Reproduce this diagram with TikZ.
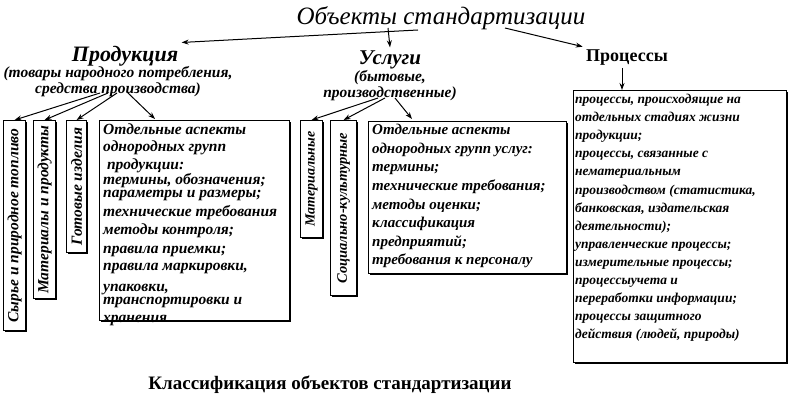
\documentclass[tikz,border=0pt]{standalone}
\usepackage{fontspec}
\setmainfont{Liberation Serif}
\usetikzlibrary{shadows,arrows.meta}
\begin{document}
\begin{tikzpicture}[x=1pt,y=-1pt,
  bx/.style={draw,line width=1.2pt,fill=white,anchor=north west,inner sep=0pt,
    drop shadow={shadow xshift=1.4pt,shadow yshift=-1.4pt,fill=black,opacity=1}},
  bt/.style={font=\fontsize{15.5}{17}\selectfont\bfseries\itshape,align=left,anchor=north west,inner sep=0pt},
  vt/.style={font=\fontsize{15.5}{17}\selectfont\bfseries\itshape,rotate=90,inner sep=0pt},
  ar/.style={-{Stealth[length=7pt,width=5pt]},line width=1pt}]
\useasboundingbox (0,0) rectangle (792,414);
\node[font=\fontsize{25}{28}\selectfont\itshape] (t) at (441,18) {Объекты стандартизации};
\node[font=\fontsize{22}{24}\selectfont\bfseries\itshape] (p) at (125,56) {Продукция};
\node[font=\fontsize{15.5}{16}\selectfont\bfseries\itshape,align=center] (ps) at (118,82) {(товары народного потребления,\\средства производства)};
\node[font=\fontsize{21}{24}\selectfont\bfseries\itshape] (u) at (390,60) {Услуги};
\node[font=\fontsize{15.5}{16}\selectfont\bfseries\itshape,align=center] (us) at (390,86) {(бытовые,\\производственные)};
\node[font=\fontsize{18}{20}\selectfont\bfseries] (pr) at (627,58) {Процессы};
% boxes
\node[bx,minimum width=22pt,minimum height=210pt] (b1) at (3,120) {};
\node[vt] at (b1.center) {Сырье и природное топливо};
\node[bx,minimum width=22pt,minimum height=178pt] (b2) at (33,120) {};
\node[vt] at (b2.center) {Материалы и продукты};
\node[bx,minimum width=20pt,minimum height=132pt] (b3) at (66,120) {};
\node[vt] at (b3.center) {Готовые изделия};
\node[bx,minimum width=190pt,minimum height=200pt] (b4) at (99,120) {};
\node[bt,font=\fontsize{15.5}{16.5}\selectfont\bfseries\itshape] at (103,124) {Отдельные аспекты\\однородных групп\\[2pt]\ продукции:\\[-2pt]термины, обозначения;\\[-3pt]параметры и размеры;\\[2pt]технические требования\\[2pt]методы контроля;\\[2pt]правила приемки;\\[1pt]правила маркировки,\\[4pt]упаковки,\\[-3pt]транспортировки и\\[1pt]хранения};
\node[bx,minimum width=22pt,minimum height=117pt] (b5) at (300,120) {};
\node[vt,font=\fontsize{14}{16}\selectfont\bfseries\itshape] at (b5.center) {Материальные};
\node[bx,minimum width=26pt,minimum height=175pt] (b6) at (330,120) {};
\node[vt,font=\fontsize{14.5}{16}\selectfont\bfseries\itshape] at (b6.center) {Социально-культурные};
\node[bx,minimum width=198pt,minimum height=152pt] (b7) at (368,121) {};
\node[bt,font=\fontsize{15}{18.6}\selectfont\bfseries\itshape] at (372,124) {Отдельные аспекты\\однородных групп услуг:\\термины;\\технические требования;\\методы оценки;\\классификация\\предприятий;\\требования к персоналу};
\node[bx,minimum width=213pt,minimum height=272pt] (b8) at (573,90) {};
\node[bt,font=\fontsize{13.5}{18.1}\selectfont\bfseries\itshape] at (575,94) {процессы, происходящие на\\отдельных стадиях жизни\\продукции;\\процессы, связанные с\\нематериальным\\производством (статистика,\\банковская, издательская\\деятельности);\\управленческие процессы;\\измерительные процессы;\\процессыучета и\\переработки информации;\\процессы защитного\\действия (людей, природы)};
\node[font=\fontsize{19}{22}\selectfont\bfseries] (cap) at (330,385) {Классификация объектов стандартизации};
% arrows
\draw[ar] (418,30) -- (p.north east);
\draw[ar] (388,28) -- (u.north);
\draw[ar] (505,28) -- (pr.north west);
\draw[ar] (622,68) -- (b8.north -| 622,0);
\draw[ar] (100,93) -- (b1.north);
\draw[ar] (108,93) -- (b2.north);
\draw[ar] (117,93) -- (b3.north);
\draw[ar] (128,93) -- (155,119);
\draw[ar] (378,98) -- (b5.north);
\draw[ar] (385,98) -- (b6.north);
\draw[ar] (395,98) -- (412,119);
\end{tikzpicture}
\end{document}
